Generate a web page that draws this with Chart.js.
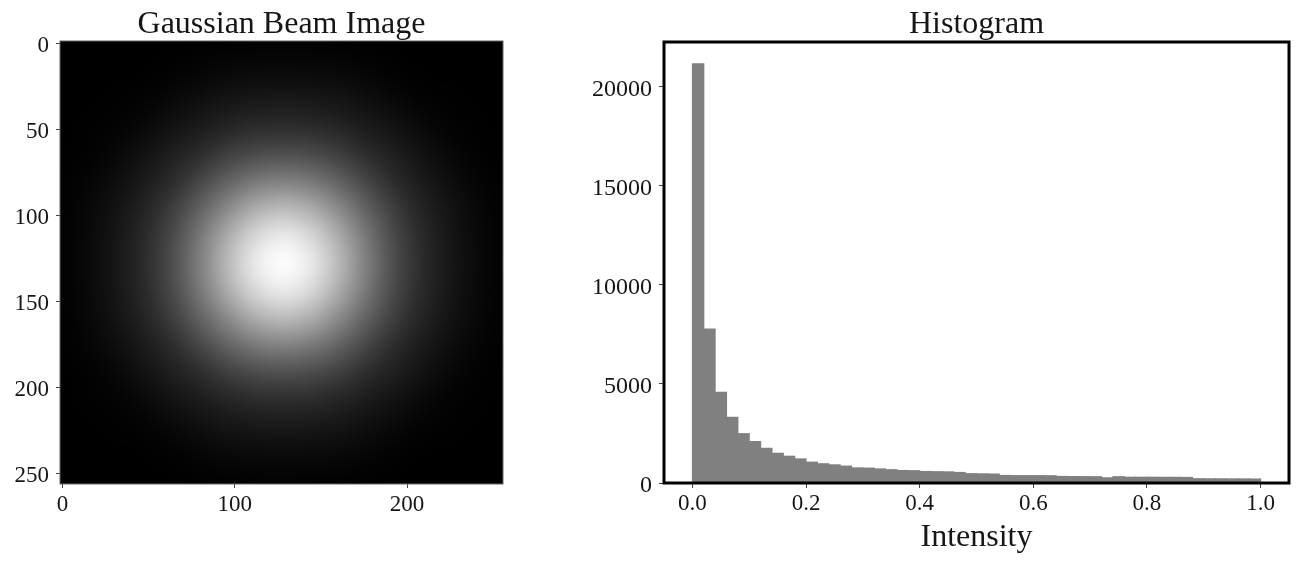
<!DOCTYPE html>
<html>
<head>
<meta charset="utf-8">
<title>Gaussian Beam Image and Histogram</title>
<script src="https://cdn.jsdelivr.net/npm/chart.js@4/dist/chart.umd.min.js"></script>
<style>
  html, body { margin: 0; padding: 0; background: #fff; overflow: hidden; }
  #beamChart, #histChart { position: absolute; top: 0; filter: blur(0.45px); }
  #beamChart { left: 0; }
  #histChart { left: 570px; }
</style>
</head>
<body>
<canvas id="beamChart" width="560" height="563"></canvas>
<canvas id="histChart" width="729" height="563"></canvas>
<script>
// beam image, grey levels on a coarse pixel grid
const beamPixels = [0, 16, 32, 48, 64, 80, 96, 112, 128, 144, 160, 176, 192, 208, 224, 240, 256];
const beamLevels = [
  [0, 0, 0, 0, 0, 1, 1, 2, 2, 2, 1, 1, 0, 0, 0, 0, 0],
  [0, 0, 0, 0, 2, 5, 8, 9, 10, 9, 8, 5, 2, 0, 0, 0, 0],
  [0, 0, 1, 3, 8, 14, 20, 23, 24, 23, 20, 14, 8, 3, 1, 0, 0],
  [0, 1, 3, 9, 18, 27, 36, 42, 44, 42, 36, 27, 18, 9, 3, 1, 0],
  [0, 2, 8, 18, 31, 44, 62, 74, 78, 74, 62, 44, 31, 18, 8, 2, 0],
  [1, 5, 14, 27, 44, 70, 98, 120, 128, 120, 98, 70, 44, 27, 14, 5, 1],
  [1, 8, 20, 36, 62, 98, 138, 173, 187, 173, 138, 98, 62, 36, 20, 8, 1],
  [2, 9, 23, 42, 74, 120, 173, 216, 235, 216, 173, 120, 74, 42, 23, 9, 2],
  [2, 10, 24, 44, 78, 128, 187, 235, 255, 235, 187, 128, 78, 44, 24, 10, 2],
  [2, 9, 23, 42, 74, 120, 173, 216, 235, 216, 173, 120, 74, 42, 23, 9, 2],
  [1, 8, 20, 36, 62, 98, 138, 173, 187, 173, 138, 98, 62, 36, 20, 8, 1],
  [1, 5, 14, 27, 44, 70, 98, 120, 128, 120, 98, 70, 44, 27, 14, 5, 1],
  [0, 2, 8, 18, 31, 44, 62, 74, 78, 74, 62, 44, 31, 18, 8, 2, 0],
  [0, 1, 3, 9, 18, 27, 36, 42, 44, 42, 36, 27, 18, 9, 3, 1, 0],
  [0, 0, 1, 3, 8, 14, 20, 23, 24, 23, 20, 14, 8, 3, 1, 0, 0],
  [0, 0, 0, 0, 2, 5, 8, 9, 10, 9, 8, 5, 2, 0, 0, 0, 0],
  [0, 0, 0, 0, 0, 1, 1, 2, 2, 2, 1, 1, 0, 0, 0, 0, 0]
];
const beamXTicks = [0, 100, 200];
const beamYTicks = [0, 50, 100, 150, 200, 250];

// histogram, 50 bins of width 0.02
const histCenters = [
  0.01, 0.03, 0.05, 0.07, 0.09, 0.11, 0.13, 0.15, 0.17, 0.19,
  0.21, 0.23, 0.25, 0.27, 0.29, 0.31, 0.33, 0.35, 0.37, 0.39,
  0.41, 0.43, 0.45, 0.47, 0.49, 0.51, 0.53, 0.55, 0.57, 0.59,
  0.61, 0.63, 0.65, 0.67, 0.69, 0.71, 0.73, 0.75, 0.77, 0.79,
  0.81, 0.83, 0.85, 0.87, 0.89, 0.91, 0.93, 0.95, 0.97, 0.99
];
const histCounts = [
  21200, 7800, 4610, 3350, 2520, 2120, 1780, 1530, 1380, 1245,
  1080, 1000, 945, 880, 790, 780, 740, 700, 660, 650,
  610, 600, 590, 560, 500, 490, 480, 410, 400, 400,
  400, 395, 360, 355, 350, 345, 290, 345, 320, 320,
  320, 315, 315, 310, 245, 240, 240, 235, 235, 230
];
const histXTicks = [0, 0.2, 0.4, 0.6, 0.8, 1.0];
const histYTicks = [0, 5000, 10000, 15000, 20000];

const serif = "'Liberation Serif', 'Times New Roman', serif";
const textColor = "#161616";

const fixedTicks = values => scale => {
  scale.ticks = values.map(value => ({ value }));
};

// empty first line pushes the y labels down a little, half of lineHeight
const yLabel = value => ["", String(value)];

// thin frame around the plot area, Chart.js only draws two sides of it
const framePlugin = {
  id: "frame",
  afterDatasetsDraw(chart, args, opts) {
    const { left, top, right, bottom } = chart.chartArea;
    const ctx = chart.ctx;
    ctx.save();
    ctx.strokeStyle = opts.color;
    ctx.lineWidth = opts.width;
    ctx.strokeRect(left, top, right - left, bottom - top);
    ctx.restore();
  }
};

// paints the grey levels through the x and y scales
const beamImagePlugin = {
  id: "beamImage",
  beforeDatasetsDraw(chart) {
    if (chart.canvas.id !== "beamChart") return;
    const n = beamPixels.length;
    const off = document.createElement("canvas");
    off.width = n;
    off.height = n;
    const offCtx = off.getContext("2d");
    const img = offCtx.createImageData(n, n);
    chart.data.datasets[0].data.forEach((cell, k) => {
      img.data[k * 4] = cell.v;
      img.data[k * 4 + 1] = cell.v;
      img.data[k * 4 + 2] = cell.v;
      img.data[k * 4 + 3] = 255;
    });
    offCtx.putImageData(img, 0, 0);

    const half = (beamPixels[1] - beamPixels[0]) / 2;
    const x0 = chart.scales.x.getPixelForValue(beamPixels[0] - half);
    const x1 = chart.scales.x.getPixelForValue(beamPixels[n - 1] + half);
    const y0 = chart.scales.y.getPixelForValue(beamPixels[0] - half);
    const y1 = chart.scales.y.getPixelForValue(beamPixels[n - 1] + half);
    const { left, top, right, bottom } = chart.chartArea;
    const ctx = chart.ctx;
    ctx.save();
    ctx.beginPath();
    ctx.rect(left, top, right - left, bottom - top);
    ctx.clip();
    ctx.imageSmoothingEnabled = true;
    ctx.imageSmoothingQuality = "high";
    ctx.drawImage(off, x0, y0, x1 - x0, y1 - y0);
    ctx.restore();
  }
};

const beamCells = [];
beamLevels.forEach((row, r) => {
  row.forEach((v, c) => {
    beamCells.push({ x: beamPixels[c], y: beamPixels[r], v });
  });
});

new Chart(document.getElementById("beamChart"), {
  type: "scatter",
  data: {
    datasets: [{
      label: "Gaussian Beam Image",
      data: beamCells,
      pointRadius: 0,
      pointHoverRadius: 0
    }]
  },
  options: {
    responsive: false,
    animation: false,
    events: [],
    layout: { padding: { right: 57 } },
    plugins: {
      legend: { display: false },
      tooltip: { enabled: false },
      title: {
        display: true,
        text: "Gaussian Beam Image",
        fullSize: false,
        color: textColor,
        font: { family: serif, size: 32, weight: "normal", lineHeight: 1 },
        padding: { top: 9, bottom: 0 }
      },
      frame: { color: "#666666", width: 1 }
    },
    scales: {
      x: {
        type: "linear",
        min: -1.5,
        max: 255.7,
        afterBuildTicks: fixedTicks(beamXTicks),
        afterFit: scale => { scale.height = 79; },
        border: { display: false },
        grid: { drawOnChartArea: false, tickLength: 4, color: "#444444" },
        ticks: {
          color: textColor,
          padding: 3,
          maxRotation: 0,
          autoSkip: false,
          font: { family: serif, size: 23 },
          callback: value => String(value)
        }
      },
      y: {
        type: "linear",
        reverse: true,
        min: -1.5,
        max: 256.3,
        afterBuildTicks: fixedTicks(beamYTicks),
        afterFit: scale => { scale.width = 60; },
        border: { display: false },
        grid: { drawOnChartArea: false, tickLength: 4, color: "#444444" },
        ticks: {
          color: textColor,
          padding: 7,
          autoSkip: false,
          font: { family: serif, size: 23, lineHeight: "5px" },
          callback: yLabel
        }
      }
    }
  },
  plugins: [beamImagePlugin, framePlugin]
});

new Chart(document.getElementById("histChart"), {
  type: "bar",
  data: {
    datasets: [{
      label: "Histogram",
      data: histCenters.map((x, i) => ({ x, y: histCounts[i] })),
      backgroundColor: "#808080",
      borderWidth: 0,
      barPercentage: 1.1,
      categoryPercentage: 1
    }]
  },
  options: {
    responsive: false,
    animation: false,
    events: [],
    layout: { padding: { right: 10 } },
    plugins: {
      legend: { display: false },
      tooltip: { enabled: false },
      title: {
        display: true,
        text: "Histogram",
        fullSize: false,
        color: textColor,
        font: { family: serif, size: 32, weight: "normal", lineHeight: 1 },
        padding: { top: 9, bottom: 1 }
      },
      frame: { color: "#000000", width: 3 }
    },
    scales: {
      x: {
        type: "linear",
        offset: false,
        min: -0.05,
        max: 1.05,
        afterBuildTicks: fixedTicks(histXTicks),
        afterFit: scale => { scale.height = 80; },
        border: { display: false },
        grid: { drawOnChartArea: false, offset: false, tickLength: 5, color: "#444444" },
        title: {
          display: true,
          text: "Intensity",
          color: textColor,
          font: { family: serif, size: 32 },
          padding: { top: 0, bottom: 6 }
        },
        ticks: {
          color: textColor,
          padding: 2,
          maxRotation: 0,
          autoSkip: false,
          font: { family: serif, size: 23 },
          callback: value => value.toFixed(1)
        }
      },
      y: {
        type: "linear",
        min: 0,
        max: 22270,
        afterBuildTicks: fixedTicks(histYTicks),
        afterFit: scale => { scale.width = 94; },
        border: { display: false },
        grid: { drawOnChartArea: false, tickLength: 5, color: "#444444" },
        ticks: {
          color: textColor,
          padding: 7,
          autoSkip: false,
          font: { family: serif, size: 24, lineHeight: "5px" },
          callback: yLabel
        }
      }
    }
  },
  plugins: [framePlugin]
});
</script>
</body>
</html>
